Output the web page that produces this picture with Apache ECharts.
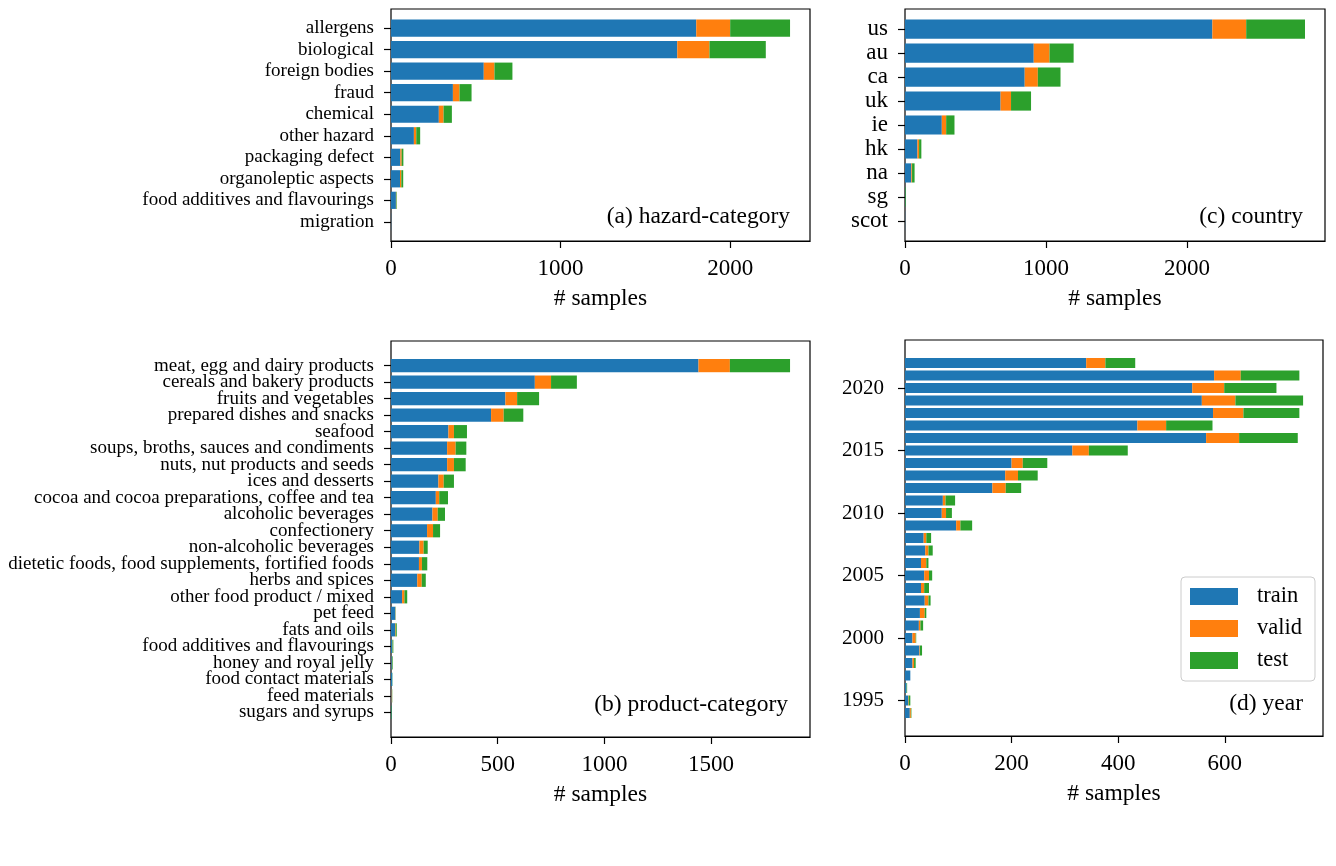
<!DOCTYPE html>
<html>
<head>
<meta charset="utf-8">
<script src="https://cdn.jsdelivr.net/npm/echarts@6/dist/echarts.min.js"></script>
<style>
html,body{margin:0;padding:0;background:#fff;}
#chart{width:1336px;height:866px;}
</style>
</head>
<body>
<div id="chart"></div>
<script>
// ---------------- data ----------------
const seriesNames = ['train', 'valid', 'test'];

const hazardCats = ['allergens', 'biological', 'foreign bodies', 'fraud', 'chemical', 'other hazard',
  'packaging defect', 'organoleptic aspects', 'food additives and flavourings', 'migration'];
const hazardTrain = [1800, 1688, 547, 365, 282, 135, 55, 53, 29, 1];
const hazardValid = [200, 190, 63, 39, 28, 14, 8, 8, 2, 0];
const hazardTest = [353, 332, 106, 71, 49, 23, 10, 11, 3, 0];

const countryCats = ['us', 'au', 'ca', 'uk', 'ie', 'hk', 'na', 'sg', 'scot'];
const countryTrain = [2180, 913, 849, 678, 261, 88, 45, 2, 1];
const countryValid = [240, 112, 93, 74, 31, 12, 5, 0, 0];
const countryTest = [417, 171, 161, 142, 59, 16, 18, 4, 0];

const productCats = ['meat, egg and dairy products', 'cereals and bakery products', 'fruits and vegetables',
  'prepared dishes and snacks', 'seafood', 'soups, broths, sauces and condiments', 'nuts, nut products and seeds',
  'ices and desserts', 'cocoa and cocoa preparations, coffee and tea', 'alcoholic beverages', 'confectionery',
  'non-alcoholic beverages', 'dietetic foods, food supplements, fortified foods', 'herbs and spices',
  'other food product / mixed', 'pet feed', 'fats and oils', 'food additives and flavourings',
  'honey and royal jelly', 'food contact materials', 'feed materials', 'sugars and syrups'];
const productTrain = [1441, 674, 536, 469, 269, 263, 263, 222, 210, 194, 169, 133, 131, 123, 52, 20, 19, 6, 4, 6, 3, 2];
const productValid = [147, 76, 55, 59, 26, 40, 32, 25, 16, 25, 28, 20, 14, 21, 11, 1, 3, 1, 1, 0, 2, 0];
const productTest = [282, 121, 103, 92, 61, 50, 55, 48, 41, 34, 33, 19, 25, 19, 13, 1, 5, 4, 3, 1, 1, 2];

const yearCats = ['1994', '1995', '1996', '1997', '1998', '1999', '2000', '2001', '2002', '2003', '2004',
  '2005', '2006', '2007', '2008', '2009', '2010', '2011', '2012', '2013', '2014', '2015', '2016', '2017',
  '2018', '2019', '2020', '2021', '2022'];
const yearTrain = [9, 6, 3, 10, 14, 27, 14, 26, 28, 37, 30, 36, 30, 38, 35, 96, 69, 71, 164, 188, 200, 314, 565, 436, 578, 557, 539, 580, 340];
const yearValid = [2, 1, 0, 0, 3, 1, 6, 3, 9, 7, 6, 9, 10, 6, 5, 8, 8, 5, 25, 24, 21, 31, 62, 54, 57, 63, 60, 50, 36];
const yearTest = [1, 3, 1, 0, 3, 4, 1, 5, 3, 4, 9, 6, 4, 8, 9, 22, 11, 18, 29, 37, 46, 73, 110, 87, 105, 127, 98, 110, 56];

const panelLabels = ['(a) hazard-category', '(b) product-category', '(c) country', '(d) year'];
const xAxisTitle = '# samples';

// ---------------- styling / layout ----------------
const FONT = '"Liberation Serif", "Times New Roman", serif';
const COLORS = ['#1f77b4', '#ff7f0e', '#2ca02c'];

const grids = [], xAxes = [], yAxes = [], series = [], graphics = [];

function addPanel(idx, frame, cats, vals, opts) {
  const H = frame.bottom - frame.top;
  const W = frame.right - frame.left;
  const n = cats.length;
  const unit = H / ((n - 0.2) * 1.1);
  const innerH = unit * n;
  const innerTop = frame.top + (H - innerH) / 2;
  let maxTotal = 0;
  for (let i = 0; i < n; i++) {
    maxTotal = Math.max(maxTotal, vals[0][i] + vals[1][i] + vals[2][i]);
  }
  const xmax = maxTotal * 1.05;
  const ticks = [];
  for (let v = 0; v <= xmax; v += opts.tickInterval) ticks.push(v);

  const outer = grids.length;
  grids.push({ left: frame.left, top: frame.top, width: W, height: H, show: true,
    borderColor: '#000', borderWidth: 1.2, backgroundColor: 'rgba(0,0,0,0)', containLabel: false });
  const inner = grids.length;
  grids.push({ left: frame.left, top: innerTop, width: W, height: innerH, show: false, containLabel: false });

  xAxes.push({
    gridIndex: outer, type: 'value', min: 0, max: xmax, interval: opts.tickInterval,
    axisLine: { show: true, lineStyle: { color: '#000', width: 1.2 } },
    axisTick: { show: true, length: 7, lineStyle: { color: '#000', width: 1.2 }, customValues: ticks },
    axisLabel: { customValues: ticks, color: '#000', fontFamily: FONT, fontSize: 23, margin: 16,
      formatter: v => (Math.abs(v % opts.tickInterval) < 1e-6 ? String(v) : '') },
    splitLine: { show: false },
    name: xAxisTitle, nameLocation: 'middle', nameGap: 46,
    nameTextStyle: { color: '#000', fontFamily: FONT, fontSize: 23.5 }
  });
  yAxes.push({ gridIndex: outer, type: 'value', show: false, min: 0, max: 1 });

  xAxes.push({ gridIndex: inner, type: 'value', min: 0, max: xmax, show: false, splitLine: { show: false } });
  yAxes.push({
    gridIndex: inner, type: 'category', data: cats, inverse: opts.inverse,
    axisLine: { show: false },
    axisTick: { show: true, alignWithLabel: true, length: 7, interval: opts.labelInterval,
      lineStyle: { color: '#000', width: 1.2 } },
    axisLabel: { color: '#000', fontFamily: FONT, fontSize: opts.labelSize, margin: opts.labelMargin,
      interval: opts.labelInterval },
    splitLine: { show: false }
  });

  for (let s = 0; s < 3; s++) {
    series.push({
      type: 'bar', name: seriesNames[s], stack: 'panel' + idx,
      xAxisIndex: inner, yAxisIndex: inner, data: vals[s],
      barWidth: '80%', itemStyle: { color: COLORS[s] }, emphasis: { disabled: true }
    });
  }

  graphics.push({
    type: 'text', x: opts.labelPos[0], y: opts.labelPos[1], z: 100,
    style: { text: opts.title, fill: '#000', font: '23.5px ' + FONT, textAlign: 'right', textVerticalAlign: 'middle' }
  });
}

const everyLabel = 0;
const fiveYears = (index, value) => Number(value) % 5 === 0;

addPanel(0, { left: 391, top: 9, right: 810, bottom: 241 }, hazardCats,
  [hazardTrain, hazardValid, hazardTest],
  { inverse: true, tickInterval: 1000, labelSize: 19, labelMargin: 17, labelInterval: everyLabel, title: panelLabels[0], labelPos: [790, 217] });
addPanel(1, { left: 391, top: 341, right: 810, bottom: 737 }, productCats,
  [productTrain, productValid, productTest],
  { inverse: true, tickInterval: 500, labelSize: 19, labelMargin: 17, labelInterval: everyLabel, title: panelLabels[1], labelPos: [788, 705] });
addPanel(2, { left: 905, top: 9, right: 1325, bottom: 241 }, countryCats,
  [countryTrain, countryValid, countryTest],
  { inverse: true, tickInterval: 1000, labelSize: 23, labelMargin: 17, labelInterval: everyLabel, title: panelLabels[2], labelPos: [1303, 217] });
addPanel(3, { left: 905, top: 340, right: 1323, bottom: 736 }, yearCats,
  [yearTrain, yearValid, yearTest],
  { inverse: false, tickInterval: 200, labelSize: 21, labelMargin: 21, labelInterval: fiveYears, title: panelLabels[3], labelPos: [1303, 704] });

const chart = echarts.init(document.getElementById('chart'), null, { renderer: 'canvas' });
chart.setOption({
  backgroundColor: '#fff',
  animation: false,
  grid: grids,
  xAxis: xAxes,
  yAxis: yAxes,
  series: series,
  graphic: graphics,
  legend: {
    data: seriesNames, orient: 'vertical', left: 1181, top: 577,
    itemWidth: 48, itemHeight: 17, itemGap: 9, icon: 'rect',
    padding: [8, 13, 9, 9],
    borderColor: '#cccccc', borderWidth: 1, borderRadius: 4, backgroundColor: '#fff',
    selectedMode: false,
    textStyle: { color: '#000', fontFamily: FONT, fontSize: 22.5, padding: [0, 0, 0, 14] }
  }
});
</script>
</body>
</html>
